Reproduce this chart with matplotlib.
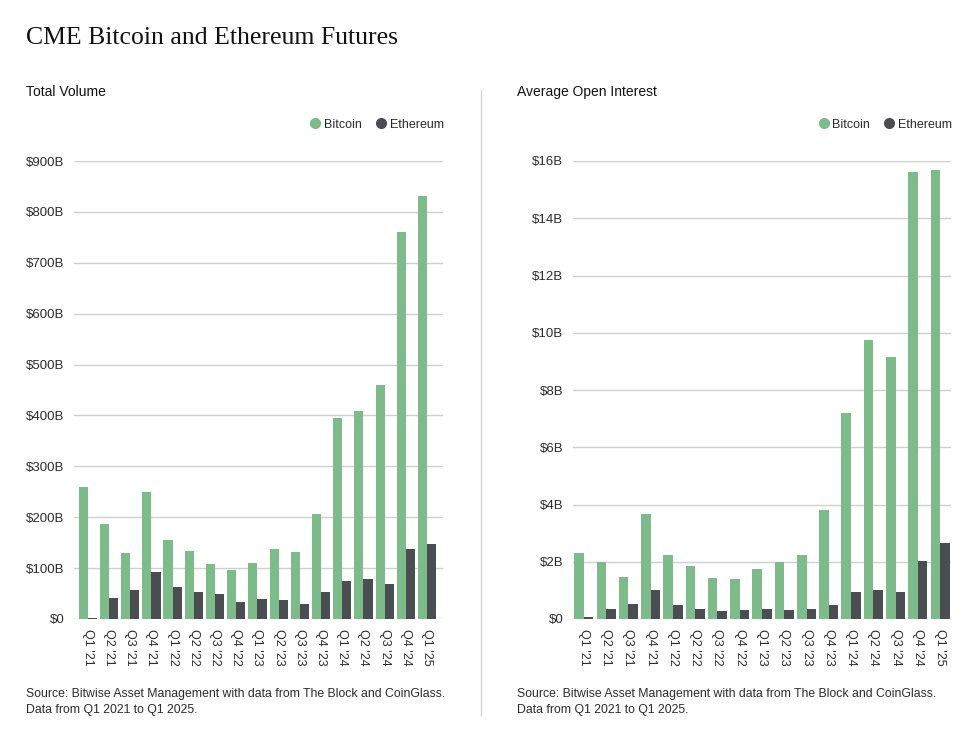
import matplotlib.pyplot as plt
import numpy as np
from matplotlib.lines import Line2D

# quarters
quarters = ["Q1 '21", "Q2 '21", "Q3 '21", "Q4 '21",
            "Q1 '22", "Q2 '22", "Q3 '22", "Q4 '22",
            "Q1 '23", "Q2 '23", "Q3 '23", "Q4 '23",
            "Q1 '24", "Q2 '24", "Q3 '24", "Q4 '24", "Q1 '25"]

# total volume, $B
vol_btc = [260, 186, 129, 249, 156, 133, 108, 97, 111, 138, 131, 207,
           394, 408, 460, 761, 831]
vol_eth = [2, 41, 57, 92, 63, 53, 49, 34, 40, 37, 30, 54,
           75, 78, 68, 138, 148]
vol_ticks = [0, 100, 200, 300, 400, 500, 600, 700, 800, 900]

# average open interest, $B
oi_btc = [2.30, 2.00, 1.48, 3.66, 2.23, 1.85, 1.43, 1.40, 1.76, 2.00, 2.24,
          3.80, 7.19, 9.76, 9.16, 15.63, 15.67]
oi_eth = [0.06, 0.35, 0.53, 1.01, 0.50, 0.36, 0.29, 0.31, 0.36, 0.33, 0.35,
          0.50, 0.95, 1.02, 0.94, 2.02, 2.66]
oi_ticks = [0, 2, 4, 6, 8, 10, 12, 14, 16]

GREEN = '#7dbb8a'
DARK = '#4a4d51'
GRID = '#cfcfcf'
TXT = '#2b2b2b'

plt.rcParams['font.family'] = ['Liberation Sans', 'DejaVu Sans']

fig = plt.figure(figsize=(9.77, 7.30), dpi=100)

W, H = 977, 730


def make_ax(x0, x1, y0=161, y1=619):
    return fig.add_axes([x0 / W, 1 - y1 / H, (x1 - x0) / W, (y1 - y0) / H])


def draw(ax, btc, eth, ticks, fmt, xlim):
    x = np.arange(len(quarters))
    w = 0.43
    ax.bar(x - w / 2, btc, w, color=GREEN, zorder=3, linewidth=0)
    ax.bar(x + w / 2, eth, w, color=DARK, zorder=3, linewidth=0)
    ax.set_xlim(*xlim)
    ax.set_ylim(ticks[0], ticks[-1])
    ax.set_yticks(ticks)
    ax.set_yticklabels([fmt(t) for t in ticks])
    ax.set_xticks(x)
    ax.set_xticklabels(quarters, rotation=-90)
    ax.grid(axis='y', color=GRID, lw=1, zorder=0)
    for s in ax.spines.values():
        s.set_visible(False)
    ax.tick_params(axis='both', length=0, colors=TXT)
    ax.tick_params(axis='y', pad=7, labelsize=9.5)
    ax.tick_params(axis='x', pad=7, labelsize=9)
    handles = [Line2D([], [], marker='o', ls='', color=GREEN, markersize=7),
               Line2D([], [], marker='o', ls='', color=DARK, markersize=7)]
    leg = ax.legend(handles, ['Bitcoin', 'Ethereum'], ncol=2, frameon=False,
                    loc='center right', bbox_to_anchor=(1.015, 1.079),
                    handletextpad=0.1, columnspacing=0.9, fontsize=9,
                    borderaxespad=0, handlelength=1.2)
    for t in leg.get_texts():
        t.set_color(TXT)


ax1 = make_ax(74, 443)
draw(ax1, vol_btc, vol_eth, vol_ticks,
     lambda t: '$0' if t == 0 else f'${t}B', (-0.65, 16.75))

ax2 = make_ax(573, 951)
draw(ax2, oi_btc, oi_eth, oi_ticks,
     lambda t: '$0' if t == 0 else f'${t}B', (-0.49, 16.49))

fig.text(26 / W, 1 - 38 / H, 'CME Bitcoin and Ethereum Futures',
         family=['Liberation Serif', 'DejaVu Serif'], fontsize=18.5,
         color='#111111', va='center', ha='left')

fig.text(26 / W, 1 - 92 / H, 'Total Volume', fontsize=10, color='#111111',
         va='center', ha='left')
fig.text(517 / W, 1 - 92 / H, 'Average Open Interest', fontsize=10,
         color='#111111', va='center', ha='left')

src = ('Source: Bitwise Asset Management with data from The Block and CoinGlass.\n'
       'Data from Q1 2021 to Q1 2025.')
fig.text(26 / W, 1 - 702 / H, src, fontsize=8.8, color=TXT,
         va='center', ha='left', linespacing=1.45)
fig.text(517 / W, 1 - 702 / H, src, fontsize=8.8, color=TXT,
         va='center', ha='left', linespacing=1.45)

fig.add_artist(Line2D([481 / W, 481 / W], [1 - 90 / H, 1 - 715 / H],
                      color='#d5d5d5', lw=1))

fig.savefig('out.png', dpi=100, facecolor='white')
